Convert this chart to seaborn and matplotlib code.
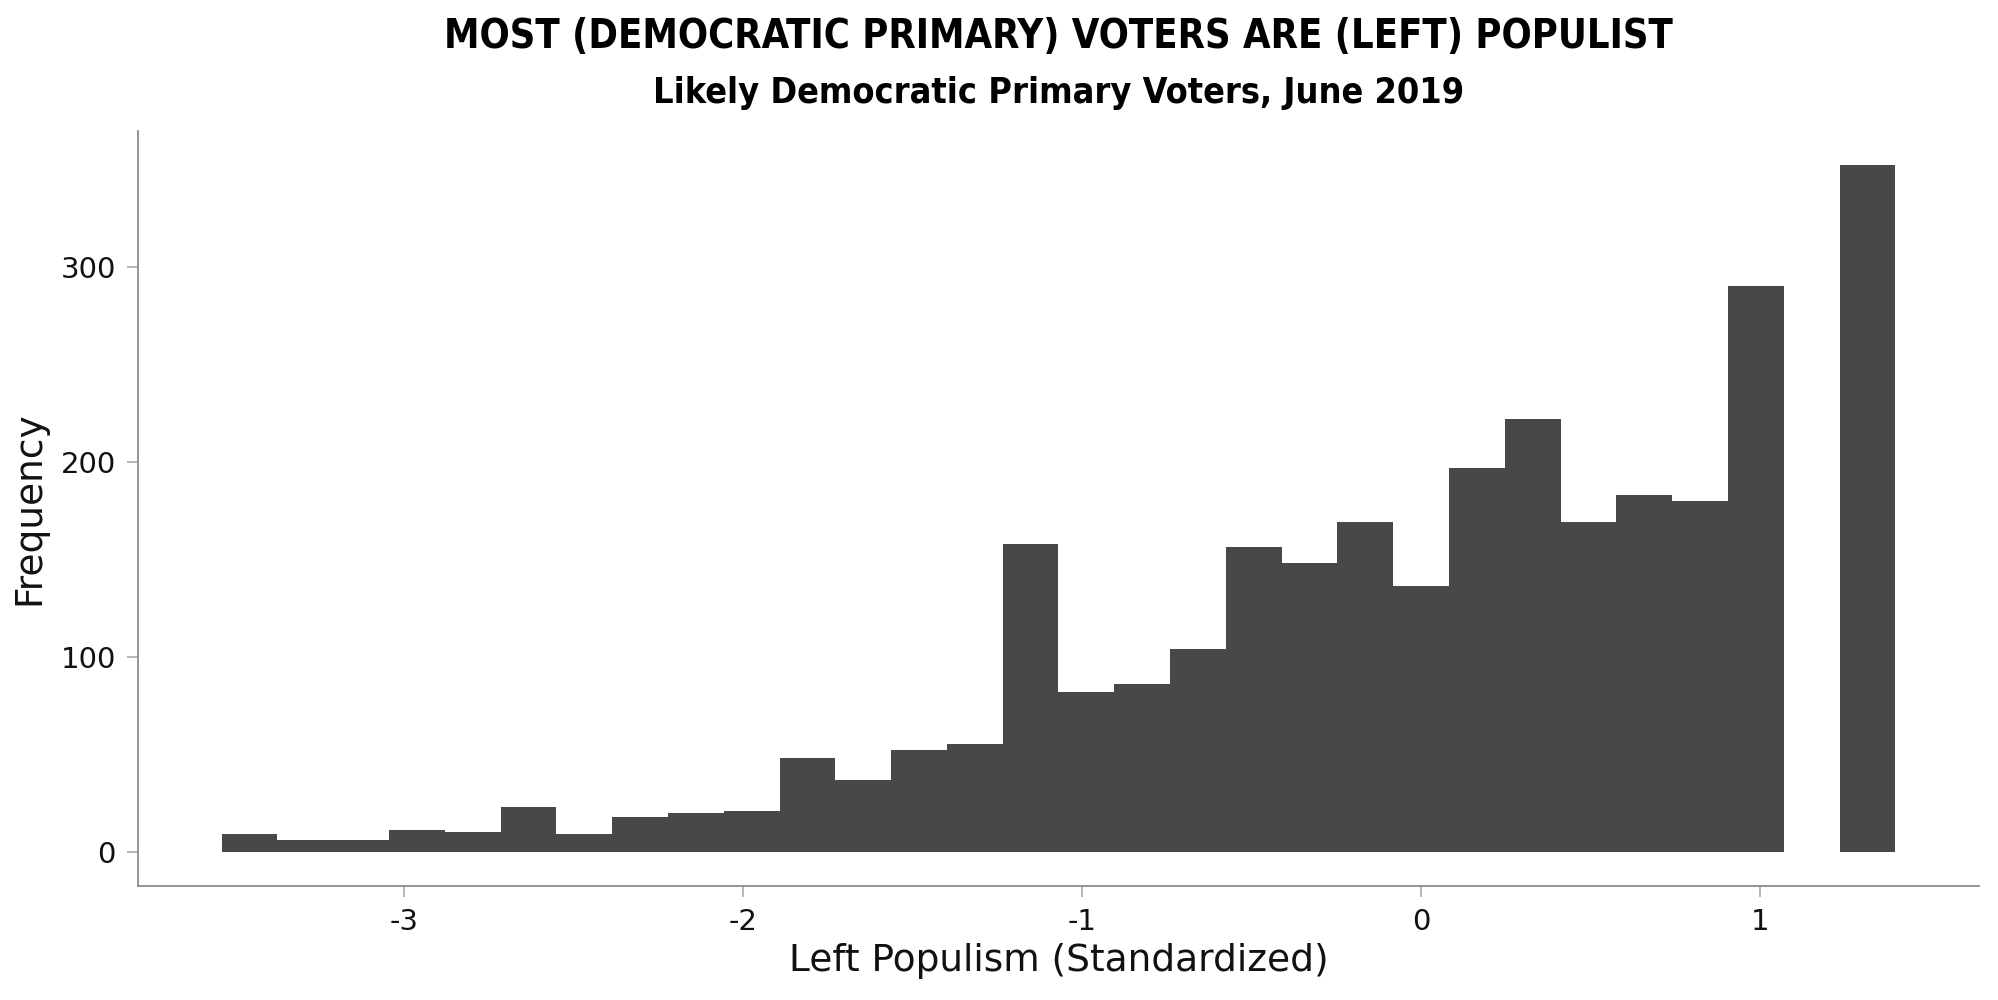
import numpy as np
import pandas as pd
import matplotlib
matplotlib.use("Agg")
import matplotlib.pyplot as plt
import seaborn as sns

# ---- data ----
title = "MOST (DEMOCRATIC PRIMARY) VOTERS ARE (LEFT) POPULIST"
subtitle = "Likely Democratic Primary Voters, June 2019"
x_label = "Left Populism (Standardized)"
y_label = "Frequency"

bin_low = -3.538
bin_high = 1.398
counts = [9, 6, 6, 11, 10, 23, 9, 18, 20, 21,
          48, 37, 52, 55, 158, 82, 86, 104, 156, 148,
          169, 136, 197, 222, 169, 183, 180, 290, 0, 352]
x_ticks = [-3, -2, -1, 0, 1]
y_ticks = [0, 100, 200, 300]

edges = np.linspace(bin_low, bin_high, len(counts) + 1)
centers = (edges[:-1] + edges[1:]) / 2
df = pd.DataFrame({"score": centers, "n": counts})

sns.set_theme(style="white")
plt.rcParams["font.family"] = ["DejaVu Sans"]

fig = plt.figure(figsize=(19.99, 10), dpi=100)
ax = fig.add_axes([0.069, 0.114, 0.921, 0.755])

sns.histplot(data=df, x="score", weights="n", bins=edges.tolist(), ax=ax,
             color="#484848", alpha=1, edgecolor="none", linewidth=0)

span = bin_high - bin_low
ax.set_xlim(bin_low - 0.05 * span, bin_high + 0.05 * span)
top = max(counts)
ax.set_ylim(-0.05 * top, 1.05 * top)

ax.set_xticks(x_ticks)
ax.set_xticklabels([str(t) for t in x_ticks])
ax.set_yticks(y_ticks)

for s in ["top", "right"]:
    ax.spines[s].set_visible(False)
for s in ["left", "bottom"]:
    ax.spines[s].set_color("#8c8c8c")
    ax.spines[s].set_linewidth(1.3)

ax.tick_params(axis="both", which="major", length=8, width=1.2,
               color="#aaaaaa", labelsize=21, labelcolor="#111111",
               direction="out", pad=8, bottom=True, left=True)

ax.set_xlabel(x_label, fontsize=27, color="#111111", labelpad=5)
ax.set_ylabel(y_label, fontsize=27, color="#111111", labelpad=9)

cx = 0.069 + 0.921 / 2
fig.text(cx, 0.963, title, ha="center", va="center", fontsize=28.5,
         fontweight="bold", fontstretch="condensed", color="black")
fig.text(cx, 0.907, subtitle, ha="center", va="center", fontsize=25.8,
         fontweight="bold", fontstretch="condensed", color="black")

fig.savefig("out.png", dpi=100)
